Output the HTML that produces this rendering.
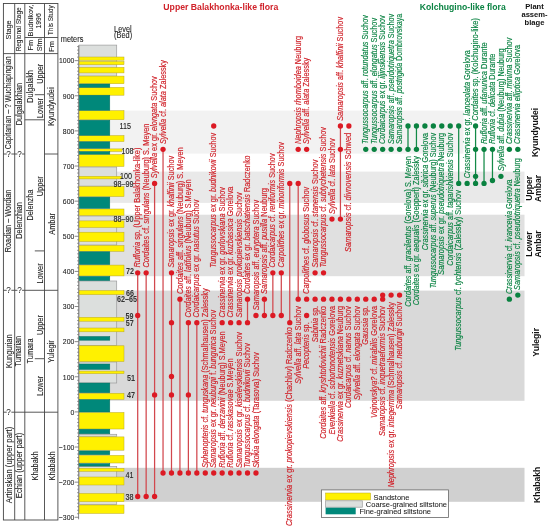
<!DOCTYPE html><html><head><meta charset="utf-8"><title>Permian flora ranges</title><style>html,body{margin:0;padding:0;background:#fff;}svg{display:block;}</style></head><body>
<svg width="550" height="529" viewBox="0 0 550 529" font-family="Liberation Sans, Arial, sans-serif">
<rect x="0" y="0" width="550" height="529" fill="#ffffff"/>
<rect x="80" y="110.6" width="383.6" height="43" fill="#f2f2f2"/>
<rect x="80" y="171.6" width="444.5" height="31.3" fill="#e9e9e9"/>
<rect x="80" y="214.7" width="444.5" height="61.5" fill="#e0e0e0"/>
<rect x="80" y="290.6" width="444.5" height="110.2" fill="#d9d9d9"/>
<rect x="80" y="467.8" width="444.5" height="34" fill="#d0d0d0"/>
<g stroke="#454545" stroke-width="0.9" fill="none"><rect x="3.4" y="3.5" width="54.5" height="516.5"/><line x1="14.7" y1="3.5" x2="14.7" y2="520.0"/><line x1="24.8" y1="3.5" x2="24.8" y2="520.0"/><line x1="44.5" y1="3.5" x2="44.5" y2="520.0"/><line x1="3.4" y1="53.6" x2="57.9" y2="53.6"/><line x1="24.8" y1="37.5" x2="57.9" y2="37.5"/><line x1="24.8" y1="119.8" x2="44.5" y2="119.8"/><line x1="44.5" y1="154" x2="57.9" y2="154"/><line x1="24.8" y1="290.3" x2="57.9" y2="290.3"/><line x1="14.7" y1="412.2" x2="57.9" y2="412.2"/><line x1="34.8" y1="94.7" x2="44" y2="94.7"/><line x1="34.8" y1="250.9" x2="44" y2="250.9"/><line x1="34.8" y1="358.7" x2="44" y2="358.7"/><line x1="3.4" y1="154" x2="6.75" y2="154"/><line x1="11.35" y1="154" x2="14.7" y2="154"/><line x1="14.7" y1="154" x2="17.45" y2="154"/><line x1="22.05" y1="154" x2="24.8" y2="154"/><line x1="3.4" y1="290.3" x2="6.75" y2="290.3"/><line x1="11.35" y1="290.3" x2="14.7" y2="290.3"/><line x1="14.7" y1="290.3" x2="17.45" y2="290.3"/><line x1="22.05" y1="290.3" x2="24.8" y2="290.3"/><line x1="3.4" y1="412.2" x2="6.75" y2="412.2"/><line x1="11.35" y1="412.2" x2="14.7" y2="412.2"/></g>
<text x="8.6" y="156.7" text-anchor="middle" font-size="8.2" fill="#222">?</text>
<text x="19.5" y="156.7" text-anchor="middle" font-size="8.2" fill="#222">?</text>
<text x="8.6" y="293" text-anchor="middle" font-size="8.2" fill="#222">?</text>
<text x="19.5" y="293" text-anchor="middle" font-size="8.2" fill="#222">?</text>
<text x="8.6" y="414.9" text-anchor="middle" font-size="8.2" fill="#222">?</text>
<text transform="translate(11,29.9) rotate(-90) scale(1,1.0)" text-anchor="middle" fill="#222222" stroke="#222222" stroke-width="0.08" font-size="7.35">Stage</text>
<text transform="translate(21.08,29.4) rotate(-90) scale(1,1.1)" text-anchor="middle" fill="#222222" stroke="#222222" stroke-width="0.08" font-size="6.6" textLength="43.9" lengthAdjust="spacingAndGlyphs">Regional Stage</text>
<text transform="translate(33.41,20.6) rotate(-90) scale(1,1.0)" text-anchor="middle" fill="#222222" stroke="#222222" stroke-width="0.08" font-size="7.35">Budnikov,</text>
<text transform="translate(40.87,20.9) rotate(-90) scale(1,1.0)" text-anchor="middle" fill="#222222" stroke="#222222" stroke-width="0.08" font-size="6.9">1996</text>
<text transform="translate(33.02,45.2) rotate(-90) scale(1,1.05)" text-anchor="middle" fill="#222222" stroke="#222222" stroke-width="0.08" font-size="7.35">Fm</text>
<text transform="translate(41.82,44.8) rotate(-90) scale(1,1.05)" text-anchor="middle" fill="#222222" stroke="#222222" stroke-width="0.08" font-size="7.35">Sfm</text>
<text transform="translate(53.39,20.1) rotate(-90) scale(1,1.0)" text-anchor="middle" fill="#222222" stroke="#222222" stroke-width="0.08" font-size="6.3" textLength="29.6" lengthAdjust="spacingAndGlyphs">This Study</text>
<text transform="translate(53.72,46.4) rotate(-90) scale(1,1.05)" text-anchor="middle" fill="#222222" stroke="#222222" stroke-width="0.08" font-size="7.35">Fm</text>
<text transform="translate(11.45,102.8) rotate(-90) scale(1,1.2)" text-anchor="middle" fill="#222222" stroke="#222222" stroke-width="0.08" font-size="7.35" textLength="92.8" lengthAdjust="spacingAndGlyphs">Capitanian – ? Wuchiapingian</text>
<text transform="translate(21.85,104.1) rotate(-90) scale(1,1.2)" text-anchor="middle" fill="#222222" stroke="#222222" stroke-width="0.08" font-size="7.35">Dulgalakhian</text>
<text transform="translate(33.15,86.4) rotate(-90) scale(1,1.2)" text-anchor="middle" fill="#222222" stroke="#222222" stroke-width="0.08" font-size="7.35">Dulgalakh</text>
<text transform="translate(42.55,73.7) rotate(-90) scale(1,1.2)" text-anchor="middle" fill="#222222" stroke="#222222" stroke-width="0.08" font-size="7.35">Upper</text>
<text transform="translate(42.55,108) rotate(-90) scale(1,1.2)" text-anchor="middle" fill="#222222" stroke="#222222" stroke-width="0.08" font-size="7.35">Lower</text>
<text transform="translate(53.95,106.6) rotate(-90) scale(1,1.2)" text-anchor="middle" fill="#222222" stroke="#222222" stroke-width="0.08" font-size="7.35">Kyundyudei</text>
<text transform="translate(11.45,220.9) rotate(-90) scale(1,1.2)" text-anchor="middle" fill="#222222" stroke="#222222" stroke-width="0.08" font-size="7.35">Roadian – Wordian</text>
<text transform="translate(21.85,220.5) rotate(-90) scale(1,1.2)" text-anchor="middle" fill="#222222" stroke="#222222" stroke-width="0.08" font-size="7.35">Delenzhian</text>
<text transform="translate(33.45,205.1) rotate(-90) scale(1,1.2)" text-anchor="middle" fill="#222222" stroke="#222222" stroke-width="0.08" font-size="7.35">Delenzha</text>
<text transform="translate(42.75,186.2) rotate(-90) scale(1,1.2)" text-anchor="middle" fill="#222222" stroke="#222222" stroke-width="0.08" font-size="7.35">Upper</text>
<text transform="translate(42.55,273.4) rotate(-90) scale(1,1.2)" text-anchor="middle" fill="#222222" stroke="#222222" stroke-width="0.08" font-size="7.35">Lower</text>
<text transform="translate(54.55,223.9) rotate(-90) scale(1,1.2)" text-anchor="middle" fill="#222222" stroke="#222222" stroke-width="0.08" font-size="7.35">Ambar</text>
<text transform="translate(12.15,351.2) rotate(-90) scale(1,1.2)" text-anchor="middle" fill="#222222" stroke="#222222" stroke-width="0.08" font-size="7.35">Kungurian</text>
<text transform="translate(21.35,351.2) rotate(-90) scale(1,1.2)" text-anchor="middle" fill="#222222" stroke="#222222" stroke-width="0.08" font-size="7.35">Tumarian</text>
<text transform="translate(32.85,350.9) rotate(-90) scale(1,1.2)" text-anchor="middle" fill="#222222" stroke="#222222" stroke-width="0.08" font-size="7.35">Tumara</text>
<text transform="translate(42.75,325.1) rotate(-90) scale(1,1.2)" text-anchor="middle" fill="#222222" stroke="#222222" stroke-width="0.08" font-size="7.35">Upper</text>
<text transform="translate(42.75,385.8) rotate(-90) scale(1,1.2)" text-anchor="middle" fill="#222222" stroke="#222222" stroke-width="0.08" font-size="7.35">Lower</text>
<text transform="translate(53.55,351.5) rotate(-90) scale(1,1.2)" text-anchor="middle" fill="#222222" stroke="#222222" stroke-width="0.08" font-size="7.35">Yulegir</text>
<text transform="translate(12.25,465) rotate(-90) scale(1,1.2)" text-anchor="middle" fill="#222222" stroke="#222222" stroke-width="0.08" font-size="7.35" textLength="76.5" lengthAdjust="spacingAndGlyphs">Artinskian (upper part)</text>
<text transform="translate(21.55,465.5) rotate(-90) scale(1,1.2)" text-anchor="middle" fill="#222222" stroke="#222222" stroke-width="0.08" font-size="7.35" textLength="65.4" lengthAdjust="spacingAndGlyphs">Echian (upper part)</text>
<text transform="translate(37.75,466) rotate(-90) scale(1,1.2)" text-anchor="middle" fill="#222222" stroke="#222222" stroke-width="0.08" font-size="7.35">Khabakh</text>
<text transform="translate(54.75,466) rotate(-90) scale(1,1.2)" text-anchor="middle" fill="#222222" stroke="#222222" stroke-width="0.08" font-size="7.35">Khabakh</text>
<g stroke="#555" stroke-width="0.7"><line x1="78.6" y1="45.3" x2="78.6" y2="519.3"/><line x1="77.2" y1="46.6" x2="78.6" y2="46.6"/><line x1="77.2" y1="50.11" x2="78.6" y2="50.11"/><line x1="77.2" y1="53.62" x2="78.6" y2="53.62"/><line x1="77.2" y1="57.14" x2="78.6" y2="57.14"/><line x1="74.8" y1="60.65" x2="78.6" y2="60.65"/><line x1="77.2" y1="64.16" x2="78.6" y2="64.16"/><line x1="77.2" y1="67.67" x2="78.6" y2="67.67"/><line x1="77.2" y1="71.19" x2="78.6" y2="71.19"/><line x1="77.2" y1="74.7" x2="78.6" y2="74.7"/><line x1="77.2" y1="78.21" x2="78.6" y2="78.21"/><line x1="77.2" y1="81.72" x2="78.6" y2="81.72"/><line x1="77.2" y1="85.24" x2="78.6" y2="85.24"/><line x1="77.2" y1="88.75" x2="78.6" y2="88.75"/><line x1="77.2" y1="92.26" x2="78.6" y2="92.26"/><line x1="74.8" y1="95.77" x2="78.6" y2="95.77"/><line x1="77.2" y1="99.29" x2="78.6" y2="99.29"/><line x1="77.2" y1="102.8" x2="78.6" y2="102.8"/><line x1="77.2" y1="106.31" x2="78.6" y2="106.31"/><line x1="77.2" y1="109.82" x2="78.6" y2="109.82"/><line x1="77.2" y1="113.34" x2="78.6" y2="113.34"/><line x1="77.2" y1="116.85" x2="78.6" y2="116.85"/><line x1="77.2" y1="120.36" x2="78.6" y2="120.36"/><line x1="77.2" y1="123.88" x2="78.6" y2="123.88"/><line x1="77.2" y1="127.39" x2="78.6" y2="127.39"/><line x1="74.8" y1="130.9" x2="78.6" y2="130.9"/><line x1="77.2" y1="134.41" x2="78.6" y2="134.41"/><line x1="77.2" y1="137.92" x2="78.6" y2="137.92"/><line x1="77.2" y1="141.44" x2="78.6" y2="141.44"/><line x1="77.2" y1="144.95" x2="78.6" y2="144.95"/><line x1="77.2" y1="148.46" x2="78.6" y2="148.46"/><line x1="77.2" y1="151.97" x2="78.6" y2="151.97"/><line x1="77.2" y1="155.49" x2="78.6" y2="155.49"/><line x1="77.2" y1="159" x2="78.6" y2="159"/><line x1="77.2" y1="162.51" x2="78.6" y2="162.51"/><line x1="74.8" y1="166.02" x2="78.6" y2="166.02"/><line x1="77.2" y1="169.54" x2="78.6" y2="169.54"/><line x1="77.2" y1="173.05" x2="78.6" y2="173.05"/><line x1="77.2" y1="176.56" x2="78.6" y2="176.56"/><line x1="77.2" y1="180.07" x2="78.6" y2="180.07"/><line x1="77.2" y1="183.59" x2="78.6" y2="183.59"/><line x1="77.2" y1="187.1" x2="78.6" y2="187.1"/><line x1="77.2" y1="190.61" x2="78.6" y2="190.61"/><line x1="77.2" y1="194.12" x2="78.6" y2="194.12"/><line x1="77.2" y1="197.64" x2="78.6" y2="197.64"/><line x1="74.8" y1="201.15" x2="78.6" y2="201.15"/><line x1="77.2" y1="204.66" x2="78.6" y2="204.66"/><line x1="77.2" y1="208.17" x2="78.6" y2="208.17"/><line x1="77.2" y1="211.69" x2="78.6" y2="211.69"/><line x1="77.2" y1="215.2" x2="78.6" y2="215.2"/><line x1="77.2" y1="218.71" x2="78.6" y2="218.71"/><line x1="77.2" y1="222.22" x2="78.6" y2="222.22"/><line x1="77.2" y1="225.74" x2="78.6" y2="225.74"/><line x1="77.2" y1="229.25" x2="78.6" y2="229.25"/><line x1="77.2" y1="232.76" x2="78.6" y2="232.76"/><line x1="74.8" y1="236.27" x2="78.6" y2="236.27"/><line x1="77.2" y1="239.79" x2="78.6" y2="239.79"/><line x1="77.2" y1="243.3" x2="78.6" y2="243.3"/><line x1="77.2" y1="246.81" x2="78.6" y2="246.81"/><line x1="77.2" y1="250.32" x2="78.6" y2="250.32"/><line x1="77.2" y1="253.84" x2="78.6" y2="253.84"/><line x1="77.2" y1="257.35" x2="78.6" y2="257.35"/><line x1="77.2" y1="260.86" x2="78.6" y2="260.86"/><line x1="77.2" y1="264.38" x2="78.6" y2="264.38"/><line x1="77.2" y1="267.89" x2="78.6" y2="267.89"/><line x1="74.8" y1="271.4" x2="78.6" y2="271.4"/><line x1="77.2" y1="274.91" x2="78.6" y2="274.91"/><line x1="77.2" y1="278.42" x2="78.6" y2="278.42"/><line x1="77.2" y1="281.94" x2="78.6" y2="281.94"/><line x1="77.2" y1="285.45" x2="78.6" y2="285.45"/><line x1="77.2" y1="288.96" x2="78.6" y2="288.96"/><line x1="77.2" y1="292.47" x2="78.6" y2="292.47"/><line x1="77.2" y1="295.99" x2="78.6" y2="295.99"/><line x1="77.2" y1="299.5" x2="78.6" y2="299.5"/><line x1="77.2" y1="303.01" x2="78.6" y2="303.01"/><line x1="74.8" y1="306.52" x2="78.6" y2="306.52"/><line x1="77.2" y1="310.04" x2="78.6" y2="310.04"/><line x1="77.2" y1="313.55" x2="78.6" y2="313.55"/><line x1="77.2" y1="317.06" x2="78.6" y2="317.06"/><line x1="77.2" y1="320.57" x2="78.6" y2="320.57"/><line x1="77.2" y1="324.09" x2="78.6" y2="324.09"/><line x1="77.2" y1="327.6" x2="78.6" y2="327.6"/><line x1="77.2" y1="331.11" x2="78.6" y2="331.11"/><line x1="77.2" y1="334.62" x2="78.6" y2="334.62"/><line x1="77.2" y1="338.14" x2="78.6" y2="338.14"/><line x1="74.8" y1="341.65" x2="78.6" y2="341.65"/><line x1="77.2" y1="345.16" x2="78.6" y2="345.16"/><line x1="77.2" y1="348.67" x2="78.6" y2="348.67"/><line x1="77.2" y1="352.19" x2="78.6" y2="352.19"/><line x1="77.2" y1="355.7" x2="78.6" y2="355.7"/><line x1="77.2" y1="359.21" x2="78.6" y2="359.21"/><line x1="77.2" y1="362.72" x2="78.6" y2="362.72"/><line x1="77.2" y1="366.24" x2="78.6" y2="366.24"/><line x1="77.2" y1="369.75" x2="78.6" y2="369.75"/><line x1="77.2" y1="373.26" x2="78.6" y2="373.26"/><line x1="74.8" y1="376.77" x2="78.6" y2="376.77"/><line x1="77.2" y1="380.29" x2="78.6" y2="380.29"/><line x1="77.2" y1="383.8" x2="78.6" y2="383.8"/><line x1="77.2" y1="387.31" x2="78.6" y2="387.31"/><line x1="77.2" y1="390.82" x2="78.6" y2="390.82"/><line x1="77.2" y1="394.34" x2="78.6" y2="394.34"/><line x1="77.2" y1="397.85" x2="78.6" y2="397.85"/><line x1="77.2" y1="401.36" x2="78.6" y2="401.36"/><line x1="77.2" y1="404.88" x2="78.6" y2="404.88"/><line x1="77.2" y1="408.39" x2="78.6" y2="408.39"/><line x1="74.8" y1="411.9" x2="78.6" y2="411.9"/><line x1="77.2" y1="415.41" x2="78.6" y2="415.41"/><line x1="77.2" y1="418.92" x2="78.6" y2="418.92"/><line x1="77.2" y1="422.44" x2="78.6" y2="422.44"/><line x1="77.2" y1="425.95" x2="78.6" y2="425.95"/><line x1="77.2" y1="429.46" x2="78.6" y2="429.46"/><line x1="77.2" y1="432.97" x2="78.6" y2="432.97"/><line x1="77.2" y1="436.49" x2="78.6" y2="436.49"/><line x1="77.2" y1="440" x2="78.6" y2="440"/><line x1="77.2" y1="443.51" x2="78.6" y2="443.51"/><line x1="74.8" y1="447.02" x2="78.6" y2="447.02"/><line x1="77.2" y1="450.54" x2="78.6" y2="450.54"/><line x1="77.2" y1="454.05" x2="78.6" y2="454.05"/><line x1="77.2" y1="457.56" x2="78.6" y2="457.56"/><line x1="77.2" y1="461.07" x2="78.6" y2="461.07"/><line x1="77.2" y1="464.59" x2="78.6" y2="464.59"/><line x1="77.2" y1="468.1" x2="78.6" y2="468.1"/><line x1="77.2" y1="471.61" x2="78.6" y2="471.61"/><line x1="77.2" y1="475.12" x2="78.6" y2="475.12"/><line x1="77.2" y1="478.64" x2="78.6" y2="478.64"/><line x1="74.8" y1="482.15" x2="78.6" y2="482.15"/><line x1="77.2" y1="485.66" x2="78.6" y2="485.66"/><line x1="77.2" y1="489.17" x2="78.6" y2="489.17"/><line x1="77.2" y1="492.69" x2="78.6" y2="492.69"/><line x1="77.2" y1="496.2" x2="78.6" y2="496.2"/><line x1="77.2" y1="499.71" x2="78.6" y2="499.71"/><line x1="77.2" y1="503.22" x2="78.6" y2="503.22"/><line x1="77.2" y1="506.74" x2="78.6" y2="506.74"/><line x1="77.2" y1="510.25" x2="78.6" y2="510.25"/><line x1="77.2" y1="513.76" x2="78.6" y2="513.76"/><line x1="74.8" y1="517.27" x2="78.6" y2="517.27"/></g>
<text transform="translate(74.3,63.45) scale(1,1.12)" text-anchor="end" font-size="6.9" fill="#222" stroke="#222" stroke-width="0.08">1000</text>
<text transform="translate(74.3,98.57) scale(1,1.12)" text-anchor="end" font-size="6.9" fill="#222" stroke="#222" stroke-width="0.08">900</text>
<text transform="translate(74.3,133.7) scale(1,1.12)" text-anchor="end" font-size="6.9" fill="#222" stroke="#222" stroke-width="0.08">800</text>
<text transform="translate(74.3,168.82) scale(1,1.12)" text-anchor="end" font-size="6.9" fill="#222" stroke="#222" stroke-width="0.08">700</text>
<text transform="translate(74.3,203.95) scale(1,1.12)" text-anchor="end" font-size="6.9" fill="#222" stroke="#222" stroke-width="0.08">600</text>
<text transform="translate(74.3,239.07) scale(1,1.12)" text-anchor="end" font-size="6.9" fill="#222" stroke="#222" stroke-width="0.08">500</text>
<text transform="translate(74.3,274.2) scale(1,1.12)" text-anchor="end" font-size="6.9" fill="#222" stroke="#222" stroke-width="0.08">400</text>
<text transform="translate(74.3,309.32) scale(1,1.12)" text-anchor="end" font-size="6.9" fill="#222" stroke="#222" stroke-width="0.08">300</text>
<text transform="translate(74.3,344.45) scale(1,1.12)" text-anchor="end" font-size="6.9" fill="#222" stroke="#222" stroke-width="0.08">200</text>
<text transform="translate(74.3,379.57) scale(1,1.12)" text-anchor="end" font-size="6.9" fill="#222" stroke="#222" stroke-width="0.08">100</text>
<text transform="translate(74.3,414.7) scale(1,1.12)" text-anchor="end" font-size="6.9" fill="#222" stroke="#222" stroke-width="0.08">0</text>
<text transform="translate(74.3,449.82) scale(1,1.12)" text-anchor="end" font-size="6.9" fill="#222" stroke="#222" stroke-width="0.08">−100</text>
<text transform="translate(74.3,484.95) scale(1,1.12)" text-anchor="end" font-size="6.9" fill="#222" stroke="#222" stroke-width="0.08">−200</text>
<text transform="translate(74.3,520.07) scale(1,1.12)" text-anchor="end" font-size="6.9" fill="#222" stroke="#222" stroke-width="0.08">−300</text>
<text transform="translate(60.8,41.9) scale(1,1.12)" font-size="7.4" fill="#222" stroke="#222" stroke-width="0.08">meters</text>
<text transform="translate(114.1,31.7) scale(1,1.12)" font-size="7.4" fill="#222" stroke="#222" stroke-width="0.08">Level</text>
<text transform="translate(114.1,38.1) scale(1,1.12)" font-size="7.4" fill="#222" stroke="#222" stroke-width="0.08">(Bed)</text>
<rect x="79.2" y="45.1" width="37.5" height="31" fill="#dcdfdd" stroke="#9c9c9c" stroke-width="0.7"/>
<rect x="79.2" y="167" width="37.5" height="19.1" fill="#dcdfdd" stroke="#9c9c9c" stroke-width="0.7"/>
<rect x="79.2" y="216" width="37.5" height="29" fill="#dcdfdd" stroke="#9c9c9c" stroke-width="0.7"/>
<rect x="79.2" y="281" width="37.5" height="64.4" fill="#dcdfdd" stroke="#9c9c9c" stroke-width="0.7"/>
<rect x="79.2" y="362" width="37.5" height="21" fill="#dcdfdd" stroke="#9c9c9c" stroke-width="0.7"/>
<rect x="79.2" y="434.3" width="37.5" height="2" fill="#dcdfdd" stroke="#9c9c9c" stroke-width="0.7"/>
<rect x="79.2" y="466.4" width="37.5" height="38.1" fill="#dcdfdd" stroke="#9c9c9c" stroke-width="0.7"/>
<rect x="79.2" y="57" width="44.8" height="3.2" fill="#fff100" stroke="#b9a825" stroke-width="0.5"/>
<rect x="79.2" y="61.5" width="44.8" height="3.2" fill="#fff100" stroke="#b9a825" stroke-width="0.5"/>
<rect x="79.2" y="67.4" width="44.8" height="5.5" fill="#fff100" stroke="#b9a825" stroke-width="0.5"/>
<rect x="79.2" y="76.1" width="44.8" height="7.6" fill="#fff100" stroke="#b9a825" stroke-width="0.5"/>
<rect x="79.2" y="87.4" width="44.8" height="7.8" fill="#fff100" stroke="#b9a825" stroke-width="0.5"/>
<rect x="79.2" y="110.7" width="44.8" height="9" fill="#fff100" stroke="#b9a825" stroke-width="0.5"/>
<rect x="79.2" y="135.6" width="44.8" height="5.9" fill="#fff100" stroke="#b9a825" stroke-width="0.5"/>
<rect x="79.2" y="148.9" width="42.9" height="2.5" fill="#fff100" stroke="#b9a825" stroke-width="0.5"/>
<rect x="79.2" y="154.5" width="44.8" height="11.9" fill="#fff100" stroke="#b9a825" stroke-width="0.5"/>
<rect x="79.2" y="176.3" width="42.3" height="2.6" fill="#fff100" stroke="#b9a825" stroke-width="0.5"/>
<rect x="79.2" y="186.5" width="44.8" height="10" fill="#fff100" stroke="#b9a825" stroke-width="0.5"/>
<rect x="79.2" y="209" width="44.8" height="6.4" fill="#fff100" stroke="#b9a825" stroke-width="0.5"/>
<rect x="79.2" y="220.9" width="44.8" height="6.6" fill="#fff100" stroke="#b9a825" stroke-width="0.5"/>
<rect x="79.2" y="232.2" width="44.8" height="9.3" fill="#fff100" stroke="#b9a825" stroke-width="0.5"/>
<rect x="79.2" y="245.5" width="44.8" height="5.8" fill="#fff100" stroke="#b9a825" stroke-width="0.5"/>
<rect x="79.2" y="265.1" width="44.8" height="10.8" fill="#fff100" stroke="#b9a825" stroke-width="0.5"/>
<rect x="79.2" y="290.6" width="44.8" height="4" fill="#fff100" stroke="#b9a825" stroke-width="0.5"/>
<rect x="79.2" y="317.3" width="44.8" height="3.9" fill="#fff100" stroke="#b9a825" stroke-width="0.5"/>
<rect x="79.2" y="328" width="44.8" height="3.8" fill="#fff100" stroke="#b9a825" stroke-width="0.5"/>
<rect x="79.2" y="345.8" width="44.8" height="15.7" fill="#fff100" stroke="#b9a825" stroke-width="0.5"/>
<rect x="79.2" y="371.1" width="44.8" height="2.5" fill="#fff100" stroke="#b9a825" stroke-width="0.5"/>
<rect x="79.2" y="393.3" width="44.8" height="6" fill="#fff100" stroke="#b9a825" stroke-width="0.5"/>
<rect x="79.2" y="412.5" width="44.8" height="16.5" fill="#fff100" stroke="#b9a825" stroke-width="0.5"/>
<rect x="79.2" y="436.9" width="44.8" height="13.3" fill="#fff100" stroke="#b9a825" stroke-width="0.5"/>
<rect x="79.2" y="455.4" width="44.8" height="7.6" fill="#fff100" stroke="#b9a825" stroke-width="0.5"/>
<rect x="79.2" y="468.3" width="44.8" height="3" fill="#fff100" stroke="#b9a825" stroke-width="0.5"/>
<rect x="79.2" y="477" width="44.8" height="8" fill="#fff100" stroke="#b9a825" stroke-width="0.5"/>
<rect x="79.2" y="493.5" width="44.8" height="8.2" fill="#fff100" stroke="#b9a825" stroke-width="0.5"/>
<rect x="79.2" y="505" width="44.8" height="8.4" fill="#fff100" stroke="#b9a825" stroke-width="0.5"/>
<rect x="79.2" y="84" width="30.6" height="3.4" fill="#00887a" stroke="#0b6f60" stroke-width="0.5"/>
<rect x="79.2" y="95.2" width="30.6" height="15.1" fill="#00887a" stroke="#0b6f60" stroke-width="0.5"/>
<rect x="79.2" y="120.2" width="30.6" height="15.1" fill="#00887a" stroke="#0b6f60" stroke-width="0.5"/>
<rect x="79.2" y="141.8" width="30.6" height="6.5" fill="#00887a" stroke="#0b6f60" stroke-width="0.5"/>
<rect x="79.2" y="151.7" width="30.6" height="2.5" fill="#00887a" stroke="#0b6f60" stroke-width="0.5"/>
<rect x="79.2" y="197.1" width="30.6" height="11.3" fill="#00887a" stroke="#0b6f60" stroke-width="0.5"/>
<rect x="79.2" y="251.8" width="30.6" height="12.7" fill="#00887a" stroke="#0b6f60" stroke-width="0.5"/>
<rect x="79.2" y="276.4" width="30.6" height="4.2" fill="#00887a" stroke="#0b6f60" stroke-width="0.5"/>
<rect x="79.2" y="336.5" width="30.6" height="3.7" fill="#00887a" stroke="#0b6f60" stroke-width="0.5"/>
<rect x="79.2" y="364" width="30.6" height="5.4" fill="#00887a" stroke="#0b6f60" stroke-width="0.5"/>
<rect x="79.2" y="383" width="30.6" height="9.7" fill="#00887a" stroke="#0b6f60" stroke-width="0.5"/>
<rect x="79.2" y="399.7" width="30.6" height="12.3" fill="#00887a" stroke="#0b6f60" stroke-width="0.5"/>
<rect x="79.2" y="429.2" width="30.6" height="4.6" fill="#00887a" stroke="#0b6f60" stroke-width="0.5"/>
<rect x="79.2" y="450.9" width="30.6" height="3.8" fill="#00887a" stroke="#0b6f60" stroke-width="0.5"/>
<rect x="79.2" y="463.6" width="30.6" height="2.5" fill="#00887a" stroke="#0b6f60" stroke-width="0.5"/>
<text transform="translate(119.6,129.15) scale(1,1.14)" font-size="7.2" fill="#222" stroke="#222" stroke-width="0.1">115</text>
<text transform="translate(121.6,153.55) scale(1,1.14)" font-size="7.2" fill="#222" stroke="#222" stroke-width="0.1">108</text>
<text transform="translate(120,179.35) scale(1,1.14)" font-size="7.2" fill="#222" stroke="#222" stroke-width="0.1">100</text>
<text transform="translate(113.6,186.55) scale(1,1.14)" font-size="7.2" fill="#222" stroke="#222" stroke-width="0.1">98–99</text>
<text transform="translate(113.4,222.35) scale(1,1.14)" font-size="7.2" fill="#222" stroke="#222" stroke-width="0.1">88–90</text>
<text transform="translate(125.9,274.45) scale(1,1.14)" font-size="7.2" font-weight="bold" fill="#333">72</text>
<text transform="translate(125.9,295.85) scale(1,1.14)" font-size="7.2" font-weight="bold" fill="#333">66</text>
<text transform="translate(116.9,302.25) scale(1,1.14)" font-size="7.2" font-weight="bold" fill="#333">62–65</text>
<text transform="translate(125.4,318.55) scale(1,1.14)" font-size="7.2" font-weight="bold" fill="#333">59</text>
<text transform="translate(125.7,325.95) scale(1,1.14)" font-size="7.2" font-weight="bold" fill="#333">57</text>
<text transform="translate(126.9,380.85) scale(1,1.14)" font-size="7.2" font-weight="bold" fill="#333">51</text>
<text transform="translate(126.9,397.95) scale(1,1.14)" font-size="7.2" font-weight="bold" fill="#333">47</text>
<text transform="translate(125.5,477.65) scale(1,1.14)" font-size="7.2" fill="#222" stroke="#222" stroke-width="0.1">41</text>
<text transform="translate(125.4,499.75) scale(1,1.14)" font-size="7.2" fill="#222" stroke="#222" stroke-width="0.1">38</text>
<text transform="translate(163.3,10.4) scale(1,1.08)" font-size="8.7" font-weight="bold" fill="#d0222a">Upper Balakhonka-like flora</text>
<text transform="translate(419.7,9.6) scale(1,1.08)" font-size="8.65" font-weight="bold" fill="#0b8343">Kolchugino-like flora</text>
<text x="534.5" y="8.7" text-anchor="middle" font-size="7.6" font-weight="bold" fill="#111">Plant</text>
<text x="534.5" y="17.1" text-anchor="middle" font-size="7.6" font-weight="bold" fill="#111">assem-</text>
<text x="534.5" y="25.3" text-anchor="middle" font-size="7.6" font-weight="bold" fill="#111">blage</text>
<text transform="translate(538.2,132.5) rotate(-90)" text-anchor="middle" fill="#111" font-size="8.6" font-weight="bold">Kyundyudei</text>
<text transform="translate(532,188.4) rotate(-90)" text-anchor="middle" fill="#111" font-size="8.6" font-weight="bold">Upper</text>
<text transform="translate(540.6,188.4) rotate(-90)" text-anchor="middle" fill="#111" font-size="8.6" font-weight="bold">Ambar</text>
<text transform="translate(532,244) rotate(-90)" text-anchor="middle" fill="#111" font-size="8.6" font-weight="bold">Lower</text>
<text transform="translate(540.6,244) rotate(-90)" text-anchor="middle" fill="#111" font-size="8.6" font-weight="bold">Ambar</text>
<text transform="translate(538.6,342.3) rotate(-90)" text-anchor="middle" fill="#111" font-size="8.6" font-weight="bold">Yulegir</text>
<text transform="translate(540,484.9) rotate(-90)" text-anchor="middle" fill="#111" font-size="8.6" font-weight="bold">Khabakh</text>
<line x1="137.7" y1="272.8" x2="137.7" y2="496.5" stroke="#d2474d" stroke-width="1.25"/>
<circle cx="137.7" cy="272.8" r="2.65" fill="#dc1a24"/>
<circle cx="137.7" cy="315.5" r="2.65" fill="#dc1a24"/>
<circle cx="137.7" cy="496.5" r="2.65" fill="#dc1a24"/>
<text transform="translate(140.3,267.6) rotate(-90) scale(1,1.17)" text-anchor="start" fill="#d0222a" stroke="#d0222a" stroke-width="0.14" font-size="7.35" textLength="120" lengthAdjust="spacingAndGlyphs"><tspan font-style="italic">Rufloria </tspan>sp. (Upper Balakhonka-like)</text>
<line x1="146.15" y1="272.8" x2="146.15" y2="496.5" stroke="#d2474d" stroke-width="1.25"/>
<circle cx="146.15" cy="272.8" r="2.65" fill="#dc1a24"/>
<circle cx="146.15" cy="496.5" r="2.65" fill="#dc1a24"/>
<text transform="translate(148.75,267.6) rotate(-90) scale(1,1.17)" text-anchor="start" fill="#d0222a" stroke="#d0222a" stroke-width="0.14" font-size="7.35" textLength="144.1" lengthAdjust="spacingAndGlyphs"><tspan font-style="italic">Cordaites </tspan>cf. <tspan font-style="italic">singulans </tspan>(Neuburg) S. Meyen</text>
<line x1="154.59" y1="183.4" x2="154.59" y2="496.5" stroke="#d2474d" stroke-width="1.25"/>
<circle cx="154.59" cy="183.4" r="2.65" fill="#dc1a24"/>
<circle cx="154.59" cy="394.9" r="2.65" fill="#dc1a24"/>
<circle cx="154.59" cy="496.5" r="2.65" fill="#dc1a24"/>
<text transform="translate(157.19,178.2) rotate(-90) scale(1,1.17)" text-anchor="start" fill="#d0222a" stroke="#d0222a" stroke-width="0.14" font-size="7.35"><tspan font-style="italic">Sylvella </tspan>ex gr. <tspan font-style="italic">elongata </tspan>Suchov</text>
<line x1="163.04" y1="149.3" x2="163.04" y2="473" stroke="#d2474d" stroke-width="1.25"/>
<circle cx="163.04" cy="149.3" r="2.65" fill="#dc1a24"/>
<circle cx="163.04" cy="473" r="2.65" fill="#dc1a24"/>
<text transform="translate(165.64,144.1) rotate(-90) scale(1,1.17)" text-anchor="start" fill="#d0222a" stroke="#d0222a" stroke-width="0.14" font-size="7.35"><tspan font-style="italic">Sylvella </tspan>cf. <tspan font-style="italic">alata </tspan>Zalessky</text>
<line x1="171.49" y1="272.8" x2="171.49" y2="473" stroke="#d2474d" stroke-width="1.25"/>
<circle cx="171.49" cy="272.8" r="2.65" fill="#dc1a24"/>
<circle cx="171.49" cy="322.7" r="2.65" fill="#dc1a24"/>
<circle cx="171.49" cy="376.5" r="2.65" fill="#dc1a24"/>
<circle cx="171.49" cy="394.9" r="2.65" fill="#dc1a24"/>
<circle cx="171.49" cy="473" r="2.65" fill="#dc1a24"/>
<text transform="translate(174.09,267.6) rotate(-90) scale(1,1.17)" text-anchor="start" fill="#d0222a" stroke="#d0222a" stroke-width="0.14" font-size="7.35"><tspan font-style="italic">Samaropsis </tspan>ex gr. <tspan font-style="italic">khalfinii </tspan>Suchov</text>
<line x1="179.94" y1="299.2" x2="179.94" y2="473" stroke="#d2474d" stroke-width="1.25"/>
<circle cx="179.94" cy="299.2" r="2.65" fill="#dc1a24"/>
<circle cx="179.94" cy="473" r="2.65" fill="#dc1a24"/>
<text transform="translate(182.53,294) rotate(-90) scale(1,1.17)" text-anchor="start" fill="#d0222a" stroke="#d0222a" stroke-width="0.14" font-size="7.35" textLength="146.7" lengthAdjust="spacingAndGlyphs"><tspan font-style="italic">Cordaites </tspan>aff. <tspan font-style="italic">singulans </tspan>(Neuburg) S. Meyen</text>
<line x1="188.38" y1="322.7" x2="188.38" y2="473" stroke="#d2474d" stroke-width="1.25"/>
<circle cx="188.38" cy="322.7" r="2.65" fill="#dc1a24"/>
<circle cx="188.38" cy="394.9" r="2.65" fill="#dc1a24"/>
<circle cx="188.38" cy="473" r="2.65" fill="#dc1a24"/>
<text transform="translate(190.98,317.5) rotate(-90) scale(1,1.17)" text-anchor="start" fill="#d0222a" stroke="#d0222a" stroke-width="0.14" font-size="7.35"><tspan font-style="italic">Cordaites </tspan>aff. <tspan font-style="italic">latifolius </tspan>(Neuburg) S.Meyen</text>
<line x1="196.83" y1="322.7" x2="196.83" y2="473" stroke="#d2474d" stroke-width="1.25"/>
<circle cx="196.83" cy="322.7" r="2.65" fill="#dc1a24"/>
<circle cx="196.83" cy="473" r="2.65" fill="#dc1a24"/>
<text transform="translate(199.43,317.5) rotate(-90) scale(1,1.17)" text-anchor="start" fill="#d0222a" stroke="#d0222a" stroke-width="0.14" font-size="7.35"><tspan font-style="italic">Cordaicarpus </tspan>ex gr. <tspan font-style="italic">nasutus </tspan>Suchov</text>
<circle cx="205.28" cy="473" r="2.65" fill="#dc1a24"/>
<text transform="translate(207.88,467.8) rotate(-90) scale(1,1.17)" text-anchor="start" fill="#d0222a" stroke="#d0222a" stroke-width="0.14" font-size="7.35"><tspan font-style="italic">Sphenopteris </tspan>cf. <tspan font-style="italic">tunguskana </tspan>(Schmalhausen) Zalessky</text>
<circle cx="213.72" cy="126" r="2.65" fill="#dc1a24"/>
<text transform="translate(216.32,132.8) rotate(-90) scale(1,1.17)" text-anchor="end" fill="#d0222a" stroke="#d0222a" stroke-width="0.14" font-size="7.35"><tspan font-style="italic">Tungussocarpus </tspan>ex gr. <tspan font-style="italic">budnikovii </tspan>Suchov</text>
<circle cx="213.72" cy="473" r="2.65" fill="#dc1a24"/>
<text transform="translate(216.32,467.8) rotate(-90) scale(1,1.17)" text-anchor="start" fill="#d0222a" stroke="#d0222a" stroke-width="0.14" font-size="7.35"><tspan font-style="italic">Samaropsis </tspan>ex gr. <tspan font-style="italic">neuburgii </tspan>f. <tspan font-style="italic">bungurica </tspan>Suchov</text>
<circle cx="222.17" cy="322.7" r="2.65" fill="#dc1a24"/>
<text transform="translate(224.77,317.5) rotate(-90) scale(1,1.17)" text-anchor="start" fill="#d0222a" stroke="#d0222a" stroke-width="0.14" font-size="7.35"><tspan font-style="italic">Crassinervia </tspan>ex gr. <tspan font-style="italic">gorlovskiana </tspan>Suchov</text>
<circle cx="222.17" cy="473" r="2.65" fill="#dc1a24"/>
<text transform="translate(224.77,467.8) rotate(-90) scale(1,1.17)" text-anchor="start" fill="#d0222a" stroke="#d0222a" stroke-width="0.14" font-size="7.35"><tspan font-style="italic">Rufloria </tspan>aff. <tspan font-style="italic">derzavinii </tspan>(Neuburg) S.Meyen</text>
<circle cx="230.62" cy="322.7" r="2.65" fill="#dc1a24"/>
<text transform="translate(233.22,317.5) rotate(-90) scale(1,1.17)" text-anchor="start" fill="#d0222a" stroke="#d0222a" stroke-width="0.14" font-size="7.35"><tspan font-style="italic">Crassinervia </tspan>ex gr. <tspan font-style="italic">kuzbassica </tspan>Gorelova</text>
<circle cx="230.62" cy="473" r="2.65" fill="#dc1a24"/>
<text transform="translate(233.22,467.8) rotate(-90) scale(1,1.17)" text-anchor="start" fill="#d0222a" stroke="#d0222a" stroke-width="0.14" font-size="7.35"><tspan font-style="italic">Rufloria </tspan>cf. <tspan font-style="italic">rasskasovae </tspan>S.Meyen</text>
<circle cx="239.06" cy="322.7" r="2.65" fill="#dc1a24"/>
<text transform="translate(241.66,317.5) rotate(-90) scale(1,1.17)" text-anchor="start" fill="#d0222a" stroke="#d0222a" stroke-width="0.14" font-size="7.35"><tspan font-style="italic">Samaropsis prokopievskiensis </tspan>Suchov</text>
<circle cx="239.06" cy="473" r="2.65" fill="#dc1a24"/>
<text transform="translate(241.66,467.8) rotate(-90) scale(1,1.17)" text-anchor="start" fill="#d0222a" stroke="#d0222a" stroke-width="0.14" font-size="7.35"><tspan font-style="italic">Samaropsis </tspan>ex gr. <tspan font-style="italic">kiselevskiensis </tspan>Suchov</text>
<line x1="247.51" y1="299.2" x2="247.51" y2="322.7" stroke="#d2474d" stroke-width="1.25"/>
<circle cx="247.51" cy="299.2" r="2.65" fill="#dc1a24"/>
<circle cx="247.51" cy="322.7" r="2.65" fill="#dc1a24"/>
<text transform="translate(250.11,294) rotate(-90) scale(1,1.17)" text-anchor="start" fill="#d0222a" stroke="#d0222a" stroke-width="0.14" font-size="7.35"><tspan font-style="italic">Cordaites </tspan>ex gr. <tspan font-style="italic">batschatiensis </tspan>Radczenko</text>
<circle cx="247.51" cy="473" r="2.65" fill="#dc1a24"/>
<text transform="translate(250.11,467.8) rotate(-90) scale(1,1.17)" text-anchor="start" fill="#d0222a" stroke="#d0222a" stroke-width="0.14" font-size="7.35"><tspan font-style="italic">Tungussocarpus </tspan>cf. <tspan font-style="italic">budnikovii </tspan>Suchov</text>
<circle cx="255.96" cy="315.5" r="2.65" fill="#dc1a24"/>
<text transform="translate(258.56,310.3) rotate(-90) scale(1,1.17)" text-anchor="start" fill="#d0222a" stroke="#d0222a" stroke-width="0.14" font-size="7.35"><tspan font-style="italic">Samaropsis </tspan>aff. <tspan font-style="italic">euryptera </tspan>Suchov</text>
<circle cx="255.96" cy="473" r="2.65" fill="#dc1a24"/>
<text transform="translate(258.56,467.8) rotate(-90) scale(1,1.17)" text-anchor="start" fill="#d0222a" stroke="#d0222a" stroke-width="0.14" font-size="7.35"><tspan font-style="italic">Skokia elongata </tspan>(Tarasova) Suchov</text>
<line x1="264.4" y1="299.2" x2="264.4" y2="315.5" stroke="#d2474d" stroke-width="1.25"/>
<circle cx="264.4" cy="299.2" r="2.65" fill="#dc1a24"/>
<circle cx="264.4" cy="315.5" r="2.65" fill="#dc1a24"/>
<text transform="translate(267,294) rotate(-90) scale(1,1.17)" text-anchor="start" fill="#d0222a" stroke="#d0222a" stroke-width="0.14" font-size="7.35" textLength="106" lengthAdjust="spacingAndGlyphs"><tspan font-style="italic">Samaropsis </tspan>aff. <tspan font-style="italic">pusilla </tspan>Neuburg</text>
<line x1="272.85" y1="272.8" x2="272.85" y2="315.5" stroke="#d2474d" stroke-width="1.25"/>
<circle cx="272.85" cy="272.8" r="2.65" fill="#dc1a24"/>
<circle cx="272.85" cy="315.5" r="2.65" fill="#dc1a24"/>
<text transform="translate(275.45,267.6) rotate(-90) scale(1,1.17)" text-anchor="start" fill="#d0222a" stroke="#d0222a" stroke-width="0.14" font-size="7.35"><tspan font-style="italic">Cordaicarpus </tspan>cf. <tspan font-style="italic">reniformis </tspan>Suchov</text>
<line x1="281.3" y1="272.8" x2="281.3" y2="315.5" stroke="#d2474d" stroke-width="1.25"/>
<circle cx="281.3" cy="272.8" r="2.65" fill="#dc1a24"/>
<circle cx="281.3" cy="315.5" r="2.65" fill="#dc1a24"/>
<text transform="translate(283.9,267.6) rotate(-90) scale(1,1.17)" text-anchor="start" fill="#d0222a" stroke="#d0222a" stroke-width="0.14" font-size="7.35"><tspan font-style="italic">Carpolithes </tspan>ex gr. <tspan font-style="italic">minoriformis </tspan>Suchov</text>
<line x1="289.75" y1="183.4" x2="289.75" y2="322.7" stroke="#d2474d" stroke-width="1.25"/>
<circle cx="289.75" cy="183.4" r="2.65" fill="#dc1a24"/>
<circle cx="289.75" cy="322.7" r="2.65" fill="#dc1a24"/>
<text transform="translate(292.35,327) rotate(-90) scale(1,1.17)" text-anchor="end" fill="#d0222a" stroke="#d0222a" stroke-width="0.14" font-size="7.35" textLength="199" lengthAdjust="spacingAndGlyphs"><tspan font-style="italic">Crassinervia </tspan>ex gr. <tspan font-style="italic">prokopievskiensis </tspan>(Chachlov) Radczenko</text>
<circle cx="298.19" cy="149.3" r="2.65" fill="#dc1a24"/>
<text transform="translate(300.79,144.1) rotate(-90) scale(1,1.17)" text-anchor="start" fill="#d0222a" stroke="#d0222a" stroke-width="0.14" font-size="7.35"><tspan font-style="italic">Nephropsis rhomboidea </tspan>Neuburg</text>
<line x1="298.19" y1="183.4" x2="298.19" y2="299.2" stroke="#d2474d" stroke-width="1.25"/>
<circle cx="298.19" cy="183.4" r="2.65" fill="#dc1a24"/>
<circle cx="298.19" cy="299.2" r="2.65" fill="#dc1a24"/>
<text transform="translate(300.79,306) rotate(-90) scale(1,1.17)" text-anchor="end" fill="#d0222a" stroke="#d0222a" stroke-width="0.14" font-size="7.35"><tspan font-style="italic">Sylvella </tspan>aff. <tspan font-style="italic">lata </tspan>Suchov</text>
<circle cx="306.64" cy="149.3" r="2.65" fill="#dc1a24"/>
<text transform="translate(309.24,144.1) rotate(-90) scale(1,1.17)" text-anchor="start" fill="#d0222a" stroke="#d0222a" stroke-width="0.14" font-size="7.35"><tspan font-style="italic">Sylvella </tspan>aff. <tspan font-style="italic">alata </tspan>Zalessky</text>
<circle cx="306.64" cy="299.2" r="2.65" fill="#dc1a24"/>
<text transform="translate(309.24,294) rotate(-90) scale(1,1.17)" text-anchor="start" fill="#d0222a" stroke="#d0222a" stroke-width="0.14" font-size="7.35" textLength="107.4" lengthAdjust="spacingAndGlyphs"><tspan font-style="italic">Carpolithes </tspan>cf. <tspan font-style="italic">globosus </tspan>Suchov</text>
<circle cx="306.64" cy="315.5" r="2.65" fill="#dc1a24"/>
<text transform="translate(309.24,322.3) rotate(-90) scale(1,1.17)" text-anchor="end" fill="#d0222a" stroke="#d0222a" stroke-width="0.14" font-size="7.35"><tspan font-style="italic">Pecopteris </tspan>sp.</text>
<circle cx="315.09" cy="272.8" r="2.65" fill="#dc1a24"/>
<text transform="translate(317.69,267.6) rotate(-90) scale(1,1.17)" text-anchor="start" fill="#d0222a" stroke="#d0222a" stroke-width="0.14" font-size="7.35"><tspan font-style="italic">Samaropsis </tspan>cf. <tspan font-style="italic">stanensis </tspan>Suchov</text>
<circle cx="315.09" cy="299.2" r="2.65" fill="#dc1a24"/>
<text transform="translate(317.69,306) rotate(-90) scale(1,1.17)" text-anchor="end" fill="#d0222a" stroke="#d0222a" stroke-width="0.14" font-size="7.35"><tspan font-style="italic">Sabinia </tspan>sp.</text>
<circle cx="323.53" cy="272.8" r="2.65" fill="#dc1a24"/>
<text transform="translate(326.13,267.6) rotate(-90) scale(1,1.17)" text-anchor="start" fill="#d0222a" stroke="#d0222a" stroke-width="0.14" font-size="7.35"><tspan font-style="italic">Tungussocarpus </tspan>cf. <tspan font-style="italic">subtychetensis </tspan>Suchov</text>
<circle cx="323.53" cy="299.2" r="2.65" fill="#dc1a24"/>
<text transform="translate(326.13,306) rotate(-90) scale(1,1.17)" text-anchor="end" fill="#d0222a" stroke="#d0222a" stroke-width="0.14" font-size="7.35" textLength="132.8" lengthAdjust="spacingAndGlyphs"><tspan font-style="italic">Cordaites </tspan>aff. <tspan font-style="italic">kryshtofovichii </tspan>Radczenko</text>
<circle cx="331.98" cy="219.1" r="2.65" fill="#dc1a24"/>
<text transform="translate(334.58,213.9) rotate(-90) scale(1,1.17)" text-anchor="start" fill="#d0222a" stroke="#d0222a" stroke-width="0.14" font-size="7.35"><tspan font-style="italic">Sylvella </tspan>cf. <tspan font-style="italic">lata </tspan>Suchov</text>
<circle cx="331.98" cy="299.2" r="2.65" fill="#dc1a24"/>
<text transform="translate(334.58,306) rotate(-90) scale(1,1.17)" text-anchor="end" fill="#d0222a" stroke="#d0222a" stroke-width="0.14" font-size="7.35"><tspan font-style="italic">Evenkiella </tspan>cf. <tspan font-style="italic">schortonotensis </tspan>Gorelova</text>
<line x1="340.43" y1="126" x2="340.43" y2="219.1" stroke="#d2474d" stroke-width="1.25"/>
<circle cx="340.43" cy="126" r="2.65" fill="#dc1a24"/>
<circle cx="340.43" cy="149.3" r="2.65" fill="#dc1a24"/>
<circle cx="340.43" cy="219.1" r="2.65" fill="#dc1a24"/>
<text transform="translate(343.03,120.8) rotate(-90) scale(1,1.17)" text-anchor="start" fill="#d0222a" stroke="#d0222a" stroke-width="0.14" font-size="7.35"><tspan font-style="italic">Samaropsis </tspan>aff. <tspan font-style="italic">khalfinii </tspan>Suchov</text>
<circle cx="340.43" cy="299.2" r="2.65" fill="#dc1a24"/>
<text transform="translate(343.03,306) rotate(-90) scale(1,1.17)" text-anchor="end" fill="#d0222a" stroke="#d0222a" stroke-width="0.14" font-size="7.35"><tspan font-style="italic">Crassinervia </tspan>ex gr. <tspan font-style="italic">kuznetskiana </tspan>Neuburg</text>
<circle cx="348.88" cy="126" r="2.65" fill="#dc1a24"/>
<text transform="translate(351.48,132.8) rotate(-90) scale(1,1.17)" text-anchor="end" fill="#d0222a" stroke="#d0222a" stroke-width="0.14" font-size="7.35" textLength="119.1" lengthAdjust="spacingAndGlyphs"><tspan font-style="italic">Samaropsis </tspan>cf. <tspan font-style="italic">divnovensis </tspan>Schwed</text>
<circle cx="348.88" cy="299.2" r="2.65" fill="#dc1a24"/>
<text transform="translate(351.48,306) rotate(-90) scale(1,1.17)" text-anchor="end" fill="#d0222a" stroke="#d0222a" stroke-width="0.14" font-size="7.35"><tspan font-style="italic">Cordaicarpus </tspan>cf. <tspan font-style="italic">nanus </tspan>Suchov</text>
<circle cx="357.32" cy="299.2" r="2.65" fill="#dc1a24"/>
<text transform="translate(359.92,306) rotate(-90) scale(1,1.17)" text-anchor="end" fill="#d0222a" stroke="#d0222a" stroke-width="0.14" font-size="7.35"><tspan font-style="italic">Sylvella </tspan>aff. <tspan font-style="italic">elongata </tspan>Suchov</text>
<circle cx="365.77" cy="299.2" r="2.65" fill="#dc1a24"/>
<text transform="translate(368.37,306) rotate(-90) scale(1,1.17)" text-anchor="end" fill="#d0222a" stroke="#d0222a" stroke-width="0.14" font-size="7.35"><tspan font-style="italic">Gaussia </tspan>sp.</text>
<circle cx="374.22" cy="299.2" r="2.65" fill="#dc1a24"/>
<text transform="translate(376.82,306) rotate(-90) scale(1,1.17)" text-anchor="end" fill="#d0222a" stroke="#d0222a" stroke-width="0.14" font-size="7.35"><tspan font-style="italic">Vojnovskya? </tspan>cf. <tspan font-style="italic">mirabilis </tspan>Gorelova</text>
<circle cx="382.66" cy="295.1" r="2.65" fill="#dc1a24"/>
<circle cx="382.66" cy="299.2" r="2.65" fill="#dc1a24"/>
<text transform="translate(385.26,306) rotate(-90) scale(1,1.17)" text-anchor="end" fill="#d0222a" stroke="#d0222a" stroke-width="0.14" font-size="7.35" textLength="130.1" lengthAdjust="spacingAndGlyphs"><tspan font-style="italic">Samaropsis </tspan>cf. <tspan font-style="italic">inquetraeformis </tspan>Suchov</text>
<circle cx="391.11" cy="295.1" r="2.65" fill="#dc1a24"/>
<text transform="translate(393.71,301.9) rotate(-90) scale(1,1.17)" text-anchor="end" fill="#d0222a" stroke="#d0222a" stroke-width="0.14" font-size="7.35" textLength="185.7" lengthAdjust="spacingAndGlyphs"><tspan font-style="italic">Nephropsis </tspan>ex gr. <tspan font-style="italic">integerrima </tspan>(Schmalhausen) Zalessky</text>
<circle cx="399.56" cy="295.1" r="2.65" fill="#dc1a24"/>
<text transform="translate(402.16,301.9) rotate(-90) scale(1,1.17)" text-anchor="end" fill="#d0222a" stroke="#d0222a" stroke-width="0.14" font-size="7.35"><tspan font-style="italic">Samaropsis </tspan>cf. <tspan font-style="italic">neuburgii </tspan>Suchov</text>
<circle cx="365.77" cy="149.3" r="2.65" fill="#0a8240"/>
<text transform="translate(368.37,144.1) rotate(-90) scale(1,1.17)" text-anchor="start" fill="#0b8343" stroke="#0b8343" stroke-width="0.14" font-size="7.35"><tspan font-style="italic">Tungussocarpus </tspan>aff. <tspan font-style="italic">rotundatus </tspan>Suchov</text>
<circle cx="374.22" cy="149.3" r="2.65" fill="#0a8240"/>
<text transform="translate(376.82,144.1) rotate(-90) scale(1,1.17)" text-anchor="start" fill="#0b8343" stroke="#0b8343" stroke-width="0.14" font-size="7.35"><tspan font-style="italic">Tungussocarpus </tspan>aff. <tspan font-style="italic">elongatus </tspan>Suchov</text>
<circle cx="382.66" cy="149.3" r="2.65" fill="#0a8240"/>
<text transform="translate(385.26,144.1) rotate(-90) scale(1,1.17)" text-anchor="start" fill="#0b8343" stroke="#0b8343" stroke-width="0.14" font-size="7.35"><tspan font-style="italic">Cordaicarpus </tspan>ex gr. <tspan font-style="italic">iljinskiensis </tspan>Suchov</text>
<circle cx="391.11" cy="149.3" r="2.65" fill="#0a8240"/>
<text transform="translate(393.71,144.1) rotate(-90) scale(1,1.17)" text-anchor="start" fill="#0b8343" stroke="#0b8343" stroke-width="0.14" font-size="7.35"><tspan font-style="italic">Samaropsis </tspan>aff. <tspan font-style="italic">pseudotriquetra </tspan>Suchov</text>
<circle cx="399.56" cy="149.3" r="2.65" fill="#0a8240"/>
<text transform="translate(402.16,144.1) rotate(-90) scale(1,1.17)" text-anchor="start" fill="#0b8343" stroke="#0b8343" stroke-width="0.14" font-size="7.35" textLength="130.2" lengthAdjust="spacingAndGlyphs"><tspan font-style="italic">Samaropsis </tspan>aff. <tspan font-style="italic">postrigida </tspan>Dombrovskaya</text>
<line x1="408" y1="126" x2="408" y2="149.3" stroke="#138a47" stroke-width="1.25"/>
<circle cx="408" cy="126" r="2.65" fill="#0a8240"/>
<circle cx="408" cy="149.3" r="2.65" fill="#0a8240"/>
<text transform="translate(410.6,156.1) rotate(-90) scale(1,1.17)" text-anchor="end" fill="#0b8343" stroke="#0b8343" stroke-width="0.14" font-size="7.35"><tspan font-style="italic">Cordaites </tspan>aff. <tspan font-style="italic">gracilentus </tspan>(Gorelova) S. Meyen</text>
<line x1="416.45" y1="126" x2="416.45" y2="149.3" stroke="#138a47" stroke-width="1.25"/>
<circle cx="416.45" cy="126" r="2.65" fill="#0a8240"/>
<circle cx="416.45" cy="149.3" r="2.65" fill="#0a8240"/>
<text transform="translate(419.05,156.1) rotate(-90) scale(1,1.17)" text-anchor="end" fill="#0b8343" stroke="#0b8343" stroke-width="0.14" font-size="7.35"><tspan font-style="italic">Cordaites </tspan>ex gr. <tspan font-style="italic">aequalis </tspan>(Goeppert) Zalessky</text>
<circle cx="424.9" cy="126" r="2.65" fill="#0a8240"/>
<text transform="translate(427.5,132.8) rotate(-90) scale(1,1.17)" text-anchor="end" fill="#0b8343" stroke="#0b8343" stroke-width="0.14" font-size="7.35"><tspan font-style="italic">Crassinervia </tspan>ex gr. <tspan font-style="italic">sibirica </tspan>Gorelova</text>
<circle cx="433.34" cy="126" r="2.65" fill="#0a8240"/>
<text transform="translate(435.94,132.8) rotate(-90) scale(1,1.17)" text-anchor="end" fill="#0b8343" stroke="#0b8343" stroke-width="0.14" font-size="7.35"><tspan font-style="italic">Tungussocarpus </tspan>aff. <tspan font-style="italic">superus </tspan>(Neuburg) Suchov</text>
<circle cx="441.79" cy="126" r="2.65" fill="#0a8240"/>
<text transform="translate(444.39,132.8) rotate(-90) scale(1,1.17)" text-anchor="end" fill="#0b8343" stroke="#0b8343" stroke-width="0.14" font-size="7.35"><tspan font-style="italic">Samaropsis </tspan>ex gr. <tspan font-style="italic">pseudotriquetra </tspan>Neuburg</text>
<circle cx="450.24" cy="126" r="2.65" fill="#0a8240"/>
<text transform="translate(452.84,132.8) rotate(-90) scale(1,1.17)" text-anchor="end" fill="#0b8343" stroke="#0b8343" stroke-width="0.14" font-size="7.35"><tspan font-style="italic">Cordaicarpus </tspan>aff. <tspan font-style="italic">tagarishkiensis </tspan>Suchov</text>
<line x1="458.69" y1="126" x2="458.69" y2="183.4" stroke="#138a47" stroke-width="1.25"/>
<circle cx="458.69" cy="126" r="2.65" fill="#0a8240"/>
<circle cx="458.69" cy="183.4" r="2.65" fill="#0a8240"/>
<text transform="translate(461.29,190.2) rotate(-90) scale(1,1.17)" text-anchor="end" fill="#0b8343" stroke="#0b8343" stroke-width="0.14" font-size="7.35"><tspan font-style="italic">Tungussocarpus </tspan>cf. <tspan font-style="italic">tychtensis </tspan>(Zalessky) Suchov</text>
<circle cx="467.13" cy="183.4" r="2.65" fill="#0a8240"/>
<text transform="translate(469.73,178.2) rotate(-90) scale(1,1.17)" text-anchor="start" fill="#0b8343" stroke="#0b8343" stroke-width="0.14" font-size="7.35"><tspan font-style="italic">Crassinervia </tspan>ex gr. <tspan font-style="italic">lanceolata </tspan>Gorelova</text>
<line x1="475.58" y1="126" x2="475.58" y2="183.4" stroke="#138a47" stroke-width="1.25"/>
<circle cx="475.58" cy="126" r="2.65" fill="#0a8240"/>
<circle cx="475.58" cy="149.3" r="2.65" fill="#0a8240"/>
<circle cx="475.58" cy="176.3" r="2.65" fill="#0a8240"/>
<circle cx="475.58" cy="183.4" r="2.65" fill="#0a8240"/>
<text transform="translate(478.18,120.8) rotate(-90) scale(1,1.17)" text-anchor="start" fill="#0b8343" stroke="#0b8343" stroke-width="0.14" font-size="7.35" textLength="102.8" lengthAdjust="spacingAndGlyphs"><tspan font-style="italic">Cordaites </tspan>sp. (Kolchugino-like)</text>
<line x1="484.03" y1="149.3" x2="484.03" y2="183.4" stroke="#138a47" stroke-width="1.25"/>
<circle cx="484.03" cy="149.3" r="2.65" fill="#0a8240"/>
<circle cx="484.03" cy="183.4" r="2.65" fill="#0a8240"/>
<text transform="translate(486.63,144.1) rotate(-90) scale(1,1.17)" text-anchor="start" fill="#0b8343" stroke="#0b8343" stroke-width="0.14" font-size="7.35" textLength="101.9" lengthAdjust="spacingAndGlyphs"><tspan font-style="italic">Rufloria </tspan>aff. <tspan font-style="italic">ufanunica </tspan>Durante</text>
<line x1="492.47" y1="149.3" x2="492.47" y2="180.5" stroke="#138a47" stroke-width="1.25"/>
<circle cx="492.47" cy="149.3" r="2.65" fill="#0a8240"/>
<circle cx="492.47" cy="180.5" r="2.65" fill="#0a8240"/>
<text transform="translate(495.07,144.1) rotate(-90) scale(1,1.17)" text-anchor="start" fill="#0b8343" stroke="#0b8343" stroke-width="0.14" font-size="7.35"><tspan font-style="italic">Rufloria </tspan>cf. <tspan font-style="italic">delicata </tspan>Durante</text>
<circle cx="500.92" cy="176.3" r="2.65" fill="#0a8240"/>
<text transform="translate(503.52,171.1) rotate(-90) scale(1,1.17)" text-anchor="start" fill="#0b8343" stroke="#0b8343" stroke-width="0.14" font-size="7.35"><tspan font-style="italic">Sylvella </tspan>aff. <tspan font-style="italic">dubia </tspan>(Neuburg) Neuburg</text>
<circle cx="509.37" cy="149.3" r="2.65" fill="#0a8240"/>
<text transform="translate(511.97,144.1) rotate(-90) scale(1,1.17)" text-anchor="start" fill="#0b8343" stroke="#0b8343" stroke-width="0.14" font-size="7.35" textLength="106.5" lengthAdjust="spacingAndGlyphs"><tspan font-style="italic">Crassinervia </tspan>aff. <tspan font-style="italic">minima </tspan>Suchov</text>
<circle cx="509.37" cy="299.2" r="2.65" fill="#0a8240"/>
<text transform="translate(511.97,294) rotate(-90) scale(1,1.17)" text-anchor="start" fill="#0b8343" stroke="#0b8343" stroke-width="0.14" font-size="7.35" textLength="114.7" lengthAdjust="spacingAndGlyphs"><tspan font-style="italic">Crassinervia </tspan>cf. <tspan font-style="italic">ivancevia </tspan>Gorelova</text>
<circle cx="517.81" cy="149.3" r="2.65" fill="#0a8240"/>
<text transform="translate(520.41,144.1) rotate(-90) scale(1,1.17)" text-anchor="start" fill="#0b8343" stroke="#0b8343" stroke-width="0.14" font-size="7.35"><tspan font-style="italic">Crassinervia elliptica </tspan>Gorelova</text>
<circle cx="517.81" cy="295.1" r="2.65" fill="#0a8240"/>
<text transform="translate(520.41,289.9) rotate(-90) scale(1,1.17)" text-anchor="start" fill="#0b8343" stroke="#0b8343" stroke-width="0.14" font-size="7.35"><tspan font-style="italic">Samaropsis </tspan>cf. <tspan font-style="italic">pseudotriquetra </tspan>Neuburg</text>
<rect x="321.4" y="489.9" width="127.1" height="27.5" fill="#ffffff" stroke="#666" stroke-width="0.8"/>
<rect x="325.6" y="493.0" width="45.0" height="7.0" fill="#fff100" stroke="#b9a825" stroke-width="0.5"/>
<rect x="325.6" y="500.8" width="36.7" height="6.4" fill="#dcdfdd" stroke="#9c9c9c" stroke-width="0.7"/>
<rect x="325.6" y="507.7" width="30.1" height="6.6" fill="#00887a"/>
<text transform="translate(373.6,500.1) scale(1,1.08)" font-size="7.5" fill="#222" stroke="#222" stroke-width="0.06">Sandstone</text>
<text transform="translate(365.8,507.1) scale(1,1.08)" font-size="7.5" fill="#222" stroke="#222" stroke-width="0.06">Coarse-grained siltstone</text>
<text transform="translate(359.4,513.9) scale(1,1.08)" font-size="7.5" fill="#222" stroke="#222" stroke-width="0.06">Fine-grained siltstone</text>
</svg></body></html>
